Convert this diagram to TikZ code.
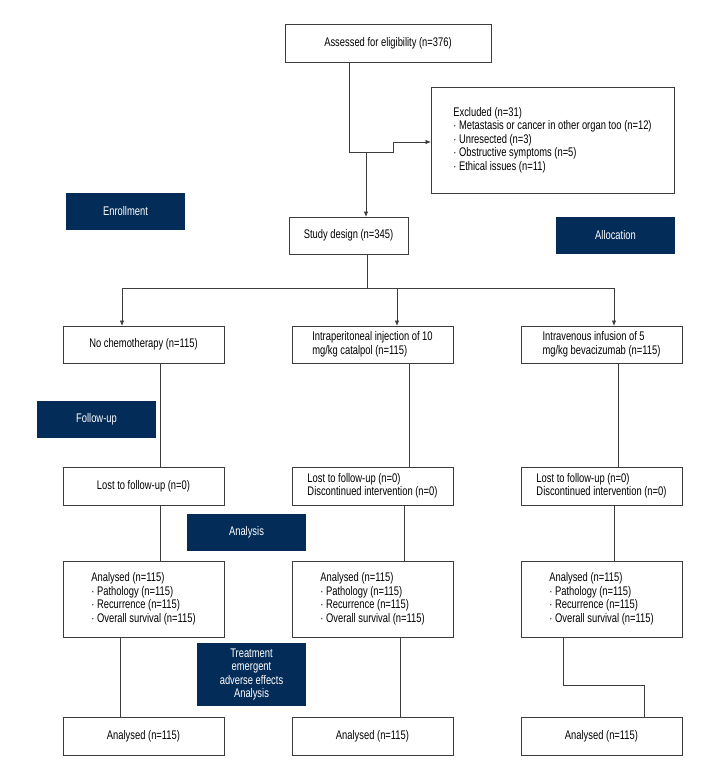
\documentclass[tikz,border=0pt]{standalone}
\usepackage{fontspec}
\setmainfont{Liberation Sans}[FakeStretch=0.75]
\usetikzlibrary{arrows.meta, positioning}
\definecolor{navy}{RGB}{4, 44, 88}
\definecolor{edge}{RGB}{60, 60, 60}

\begin{document}
\begin{tikzpicture}[
    x=1pt, y=-1pt,
    font=\fontsize{12.5}{13.5}\selectfont,
    box/.style={rectangle, draw=edge, line width=0.8pt, inner sep=0pt, outer sep=0pt, minimum width=161pt, minimum height=38pt, align=center},
    stage/.style={rectangle, fill=navy, text=white, inner sep=0pt, outer sep=0pt, minimum width=119pt, minimum height=37pt, align=center},
    line/.style={draw=edge, line width=0.8pt},
    arrow/.style={line, -{Latex[length=5.5pt, width=4.5pt]}}
]
    \useasboundingbox (0,0) rectangle (720,780);

    \node[box, minimum width=206pt, anchor=north west] (assessed) at (285,24) {Assessed for eligibility (n=376)};
    \node[box, minimum width=243pt, minimum height=106pt, align=left, anchor=north west] (excluded) at (431,87) {Excluded (n=31)\\· Metastasis or cancer in other organ too (n=12)\\· Unresected (n=3)\\· Obstructive symptoms (n=5)\\· Ethical issues (n=11)};
    \node[box, minimum width=119pt, minimum height=37pt, anchor=north west] (design) at (289,217) {Study design (n=345)};

    \node[stage, anchor=north west] (enroll) at (66,193) {Enrollment};
    \node[stage, anchor=north west] (alloc) at (556,217) {Allocation};
    \node[stage, anchor=north west] (follow) at (37,401) {Follow-up};
    \node[stage, anchor=north west] (analysis) at (187,514) {Analysis};
    \node[stage, minimum width=109pt, minimum height=63pt, anchor=north west] (teae) at (197,643) {Treatment\\emergent\\adverse effects\\Analysis};

    % arms
    \node[box, minimum height=37pt, anchor=north west] (nochemo) at (63,326) {No chemotherapy (n=115)};
    \node[box, minimum height=37pt, align=left, right=68pt of nochemo] (catalpol) {Intraperitoneal injection of 10\\mg/kg catalpol (n=115)};
    \node[box, minimum height=37pt, align=left, right=68pt of catalpol] (bevaci) {Intravenous infusion of 5\\mg/kg bevacizumab (n=115)};

    \node[box, below=104pt of nochemo] (lostA) {Lost to follow-up (n=0)};
    \node[box, align=left, below=104pt of catalpol] (lostB) {Lost to follow-up (n=0)\\Discontinued intervention (n=0)};
    \node[box, align=left, below=104pt of bevaci] (lostC) {Lost to follow-up (n=0)\\Discontinued intervention (n=0)};

    \node[box, minimum height=76pt, align=left, below=56pt of lostA] (anaA) {Analysed (n=115)\\· Pathology (n=115)\\· Recurrence (n=115)\\· Overall survival (n=115)};
    \node[box, minimum height=76pt, align=left, below=56pt of lostB] (anaB) {Analysed (n=115)\\· Pathology (n=115)\\· Recurrence (n=115)\\· Overall survival (n=115)};
    \node[box, minimum height=76pt, align=left, below=56pt of lostC] (anaC) {Analysed (n=115)\\· Pathology (n=115)\\· Recurrence (n=115)\\· Overall survival (n=115)};

    \node[box, below=80pt of anaA] (endA) {Analysed (n=115)};
    \node[box, below=80pt of anaB] (endB) {Analysed (n=115)};
    \node[box, below=80pt of anaC] (endC) {Analysed (n=115)};

    % connectors
    \coordinate (jog) at (393,152);
    \coordinate (branch) at (367,288);
    \coordinate (stepC) at (644,685);
    \draw[arrow] ([xshift=-39pt]assessed.south) |- (jog) |- ([yshift=-2pt]excluded.west);
    \draw[arrow] ([xshift=17.5pt]design.north |- jog) -- ([xshift=17.5pt]design.north);
    \draw[line] ([xshift=18.5pt]design.south) -- (branch);
    \draw[arrow] (branch) -| ([xshift=-21.5pt]nochemo.north);
    \draw[arrow] (branch) -| ([xshift=24.5pt]catalpol.north);
    \draw[arrow] (branch) -| ([xshift=12.5pt]bevaci.north);

    \draw[line] ([xshift=16.5pt]nochemo.south) -- ([xshift=16.5pt]lostA.north);
    \draw[line] ([xshift=16.5pt]lostA.south) -- ([xshift=16.5pt]anaA.north);
    \draw[line] ([xshift=-23.5pt]anaA.south) -- ([xshift=-23.5pt]endA.north);

    \draw[line] ([xshift=36.5pt]catalpol.south) -- ([xshift=36.5pt]lostB.north);
    \draw[line] ([xshift=31.5pt]lostB.south) -- ([xshift=31.5pt]anaB.north);
    \draw[line] ([xshift=27.5pt]anaB.south) -- ([xshift=27.5pt]endB.north);

    \draw[line] ([xshift=17pt]bevaci.south) -- ([xshift=17pt]lostC.north);
    \draw[line] ([xshift=12.5pt]lostC.south) -- ([xshift=12.5pt]anaC.north);
    \draw[line] ([xshift=-38.5pt]anaC.south) |- (stepC) -- (stepC |- endC.north);
\end{tikzpicture}
\end{document}
